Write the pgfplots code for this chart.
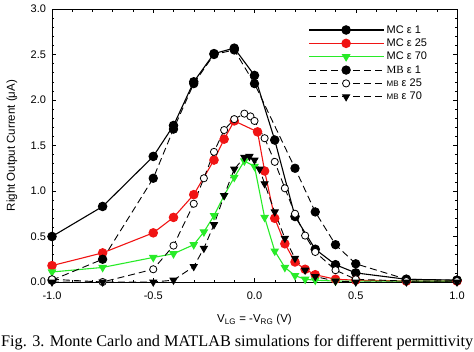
\documentclass[border=0pt]{standalone}
\usepackage{pgfplots}
\pgfplotsset{compat=1.18}
\usepackage{graphicx}
\usepackage{fontspec}
\setmainfont{Liberation Sans}
\newfontfamily\serif{Liberation Serif}
\definecolor{myred}{RGB}{240,20,20}
\definecolor{mygreen}{RGB}{40,235,40}
\begin{document}
\begin{tikzpicture}
\begin{axis}[
  scale only axis, width=405pt, height=273pt,
  xmin=-1, xmax=1, ymin=0, ymax=3,
  xtick={-1,-0.5,0,0.5,1}, ytick={0,0.5,1,1.5,2,2.5,3},
  minor x tick num=4, minor y tick num=4,
  tick align=inside, tick pos=both,
  major tick length=4pt, minor tick length=2.5pt,
  every tick/.style={black, line width=0.5pt},
  axis line style={line width=0.7pt},
  clip=false,
  /pgf/number format/assume math mode=true,
  /pgf/number format/.cd, fixed, fixed zerofill, precision=1, /pgfplots/.cd,
  xticklabel style={font=\fontsize{11}{13}\selectfont, anchor=center, yshift=-14pt},
  yticklabel style={font=\fontsize{11}{13}\selectfont, xshift=-2.5pt},
  ylabel={Right Output Current (μA)},
  ylabel style={at={(axis description cs:-0.0988,0.5)}, anchor=center, font=\fontsize{11.5}{13}\selectfont},
  xlabel={V\textsubscript{LG} = -V\textsubscript{RG} (V)},
  xlabel style={at={(axis description cs:0.5,-0.139)}, anchor=center, font=\fontsize{11.5}{13}\selectfont},
  legend cell align=left,
  legend style={draw=none, fill=none, at={(rel axis cs:0.633,0.948)}, anchor=north west,
    font=\fontsize{11}{12.5}\selectfont, row sep=0.2pt, inner sep=0pt},
  legend image code/.code={\draw[mark repeat=2, mark phase=2, #1] plot coordinates {(0pt,0pt) (37pt,0pt) (75pt,0pt)};},
]
% MC eps 1
\addplot[black, line width=1.1pt, mark=*, mark size=4.2pt, mark options={solid, fill=black}] coordinates {
(-1,0.50) (-0.75,0.83) (-0.5,1.38) (-0.4,1.72) (-0.3,2.20) (-0.2,2.51) (-0.1,2.57) (0,2.27) (0.1,1.56) (0.2,0.72) (0.3,0.36) (0.4,0.19) (0.5,0.10) (0.75,0.03) (1.0,0.02)};
\addlegendentry{MC ε 1}
% MC eps 25
\addplot[myred, line width=1.1pt, mark=*, mark size=4.2pt, mark options={solid, fill=myred}] coordinates {
(-1,0.18) (-0.75,0.32) (-0.5,0.54) (-0.4,0.71) (-0.3,0.96) (-0.2,1.34) (-0.15,1.57) (-0.1,1.77) (0.015,1.65) (0.05,1.22) (0.1,0.70) (0.15,0.42) (0.2,0.22) (0.25,0.14) (0.3,0.08) (0.4,0.03) (0.5,0.02) (0.75,0.01) (1.0,0.01)};
\addlegendentry{MC ε  25}
% MC eps 70
\addplot[mygreen, line width=1.1pt, mark=triangle*, mark size=4pt, mark options={solid, fill=mygreen, rotate=180}] coordinates {
(-1,0.11) (-0.75,0.16) (-0.5,0.27) (-0.4,0.31) (-0.3,0.41) (-0.25,0.55) (-0.2,0.73) (-0.15,0.95) (-0.1,1.15) (-0.05,1.33) (0,1.27) (0.05,0.71) (0.1,0.34) (0.15,0.16) (0.2,0.07) (0.25,0.03) (0.3,0.02) (0.4,0.01) (0.5,0.01) (0.75,0.01) (1.0,0.01)};
\addlegendentry{MC ε 70}
% MB eps 1
\addplot[black, line width=0.9pt, dash pattern=on 7pt off 4pt, mark=*, mark size=4.2pt, mark options={solid, fill=black}] coordinates {
(-1,0.02) (-0.75,0.25) (-0.5,1.14) (-0.4,1.68) (-0.3,2.18) (-0.2,2.50) (-0.1,2.55) (0,2.18) (0.2,1.25) (0.3,0.77) (0.4,0.41) (0.5,0.20) (0.75,0.03) (1.0,0.02)};
\addlegendentry{{\serif MB} ε 1}
% MB eps 25
\addplot[black, line width=0.9pt, dash pattern=on 7pt off 4pt, mark=*, mark size=3.6pt, mark options={solid, fill=white, line width=0.8pt}] coordinates {
(-1,0.03) (-0.75,0.00) (-0.5,0.14) (-0.4,0.40) (-0.3,0.86) (-0.25,1.14) (-0.2,1.43) (-0.15,1.67) (-0.1,1.79) (-0.05,1.85) (-0.02,1.82) (0,1.77) (0.05,1.58) (0.1,1.32) (0.15,1.03) (0.2,0.75) (0.25,0.51) (0.3,0.33) (0.4,0.13) (0.5,0.03) (0.75,0.01) (1.0,0.01)};
\addlegendentry{{\fontsize{8}{10}\selectfont MB} ε 25}
% MB eps 70
\addplot[black, line width=0.9pt, dash pattern=on 7pt off 4pt, mark=triangle*, mark size=4pt, mark options={solid, fill=black, rotate=180}] coordinates {
(-1,0.00) (-0.75,0.00) (-0.5,0.00) (-0.4,0.02) (-0.3,0.17) (-0.25,0.37) (-0.2,0.63) (-0.15,0.95) (-0.1,1.24) (-0.05,1.37) (-0.025,1.38) (0,1.34) (0.025,1.24) (0.05,1.08) (0.1,0.77) (0.15,0.48) (0.2,0.26) (0.25,0.13) (0.3,0.06) (0.4,0.01) (0.5,0.00) (0.75,0.00) (1.0,0.00)};
\addlegendentry{{\fontsize{8}{10}\selectfont MB} ε 70}
\end{axis}
\node[anchor=base west, inner sep=0pt] at (-51pt,-64pt) {\resizebox{472pt}{!}{\serif Fig. 3. Monte Carlo and MATLAB simulations for different permittivity}};
\useasboundingbox (-52pt,-69pt) rectangle (422pt,282pt);
\end{tikzpicture}
\end{document}
